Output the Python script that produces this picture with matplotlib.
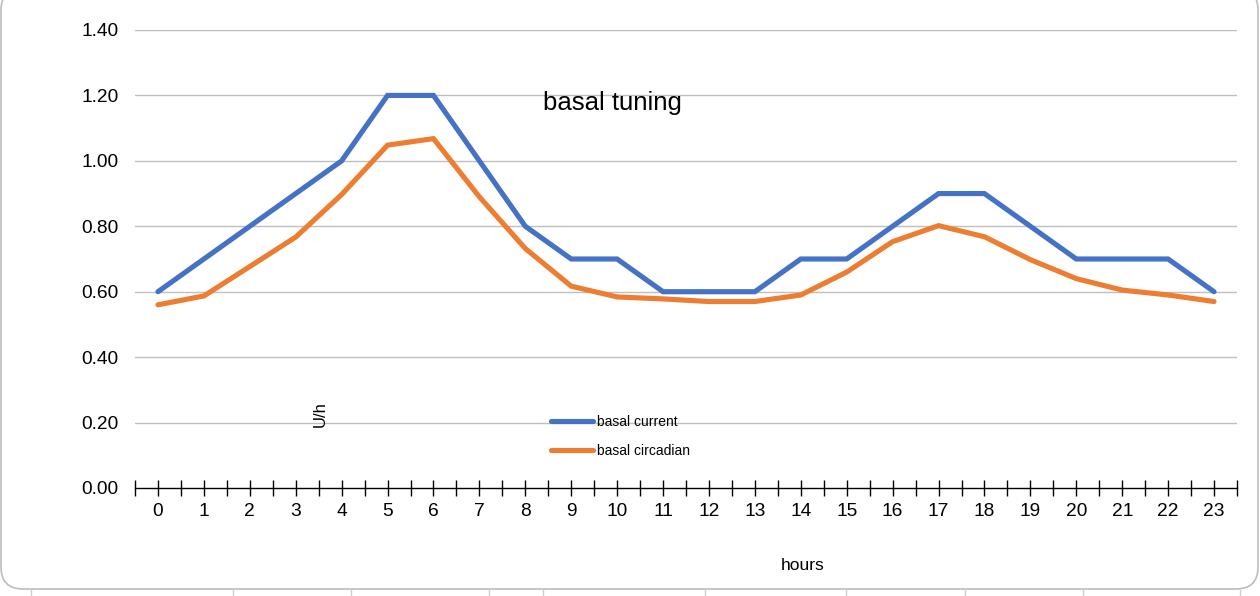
import matplotlib
matplotlib.use("Agg")
import matplotlib.pyplot as plt
from matplotlib.patches import FancyBboxPatch
import numpy as np

hours = list(range(24))
hour_labels = [str(h) for h in hours]
basal_current = [0.6, 0.7, 0.8, 0.9, 1.0, 1.2, 1.2, 1.0, 0.8, 0.7, 0.7, 0.6,
                 0.6, 0.6, 0.7, 0.7, 0.8, 0.9, 0.9, 0.8, 0.7, 0.7, 0.7, 0.6]
basal_circadian = [0.56, 0.587, 0.677, 0.767, 0.897, 1.048, 1.068, 0.89, 0.732, 0.617,
                   0.584, 0.578, 0.57, 0.57, 0.59, 0.66, 0.753, 0.802, 0.768, 0.698,
                   0.64, 0.605, 0.59, 0.57]
series_names = ["basal current", "basal circadian"]
y_ticks = [0.0, 0.2, 0.4, 0.6, 0.8, 1.0, 1.2, 1.4]

plt.rcParams['font.family'] = ['Liberation Sans', 'DejaVu Sans']

W, H = 1260, 596
fig = plt.figure(figsize=(W / 100, H / 100), dpi=100)

# background frame (pixel coordinates)
bg = fig.add_axes([0, 0, 1, 1], zorder=-5)
bg.set_xlim(0, W)
bg.set_ylim(H, 0)
bg.axis('off')
bg.add_patch(FancyBboxPatch((1, -12), W - 3, 601,
                            boxstyle="round,pad=0,rounding_size=22",
                            facecolor='white', edgecolor='#BDBDBD', lw=1.2))
for xc in [31, 233, 351, 489, 543, 705, 846, 965, 1083, 1240]:
    bg.plot([xc, xc], [590, 596], color='#CFCFCF', lw=1)

left, right = 135 / W, 1237 / W
bottom, top = (H - 488) / H, (H - 30) / H
ax = fig.add_axes([left, bottom, right - left, top - bottom])
ax.set_facecolor('none')

ax.plot(hours, basal_current, color='#4472C4', lw=3.7, solid_capstyle='round',
        solid_joinstyle='miter', label=series_names[0], zorder=3)
ax.plot(hours, basal_circadian, color='#ED7D31', lw=3.7, solid_capstyle='round',
        solid_joinstyle='miter', label=series_names[1], zorder=3)

ax.set_xlim(-0.5, 23.5)
ax.set_ylim(0, 1.4)
ax.set_yticks(y_ticks)
ax.set_yticklabels([f"{v:.2f}" for v in y_ticks], fontsize=13.8)
ax.tick_params(axis='y', length=0, pad=12)
ax.set_xticks(hours)
ax.set_xticklabels(hour_labels, fontsize=13.8)
ax.set_xticks(np.arange(-0.5, 24, 1.0), minor=True)
ax.tick_params(axis='x', which='both', direction='inout', length=12, width=1,
               color='black', pad=5)
for gy in y_ticks[1:]:
    ax.axhline(gy, color='#BFBFBF', lw=1, zorder=1)
for s in ['left', 'right', 'top']:
    ax.spines[s].set_visible(False)
ax.spines['bottom'].set_color('black')
ax.spines['bottom'].set_linewidth(1)
ax.spines['bottom'].set_zorder(4)

fig.text(612 / W, 1 - 103 / H, "basal tuning", fontsize=18.5, ha='center', va='center')
fig.text(320 / W, 1 - 414 / H, "U/h", fontsize=12, rotation=90, ha='center', va='center')
fig.text(803 / W, 1 - 566 / H, "hours", fontsize=12.5, ha='center', va='center')

leg = ax.legend(loc='upper left', bbox_to_anchor=(551 / W, 1 - 415 / H),
                bbox_transform=fig.transFigure, frameon=False, fontsize=10,
                handlelength=3.0, handletextpad=0.3, labelspacing=1.1,
                borderpad=0, borderaxespad=0)

fig.savefig("out.png", dpi=100)
